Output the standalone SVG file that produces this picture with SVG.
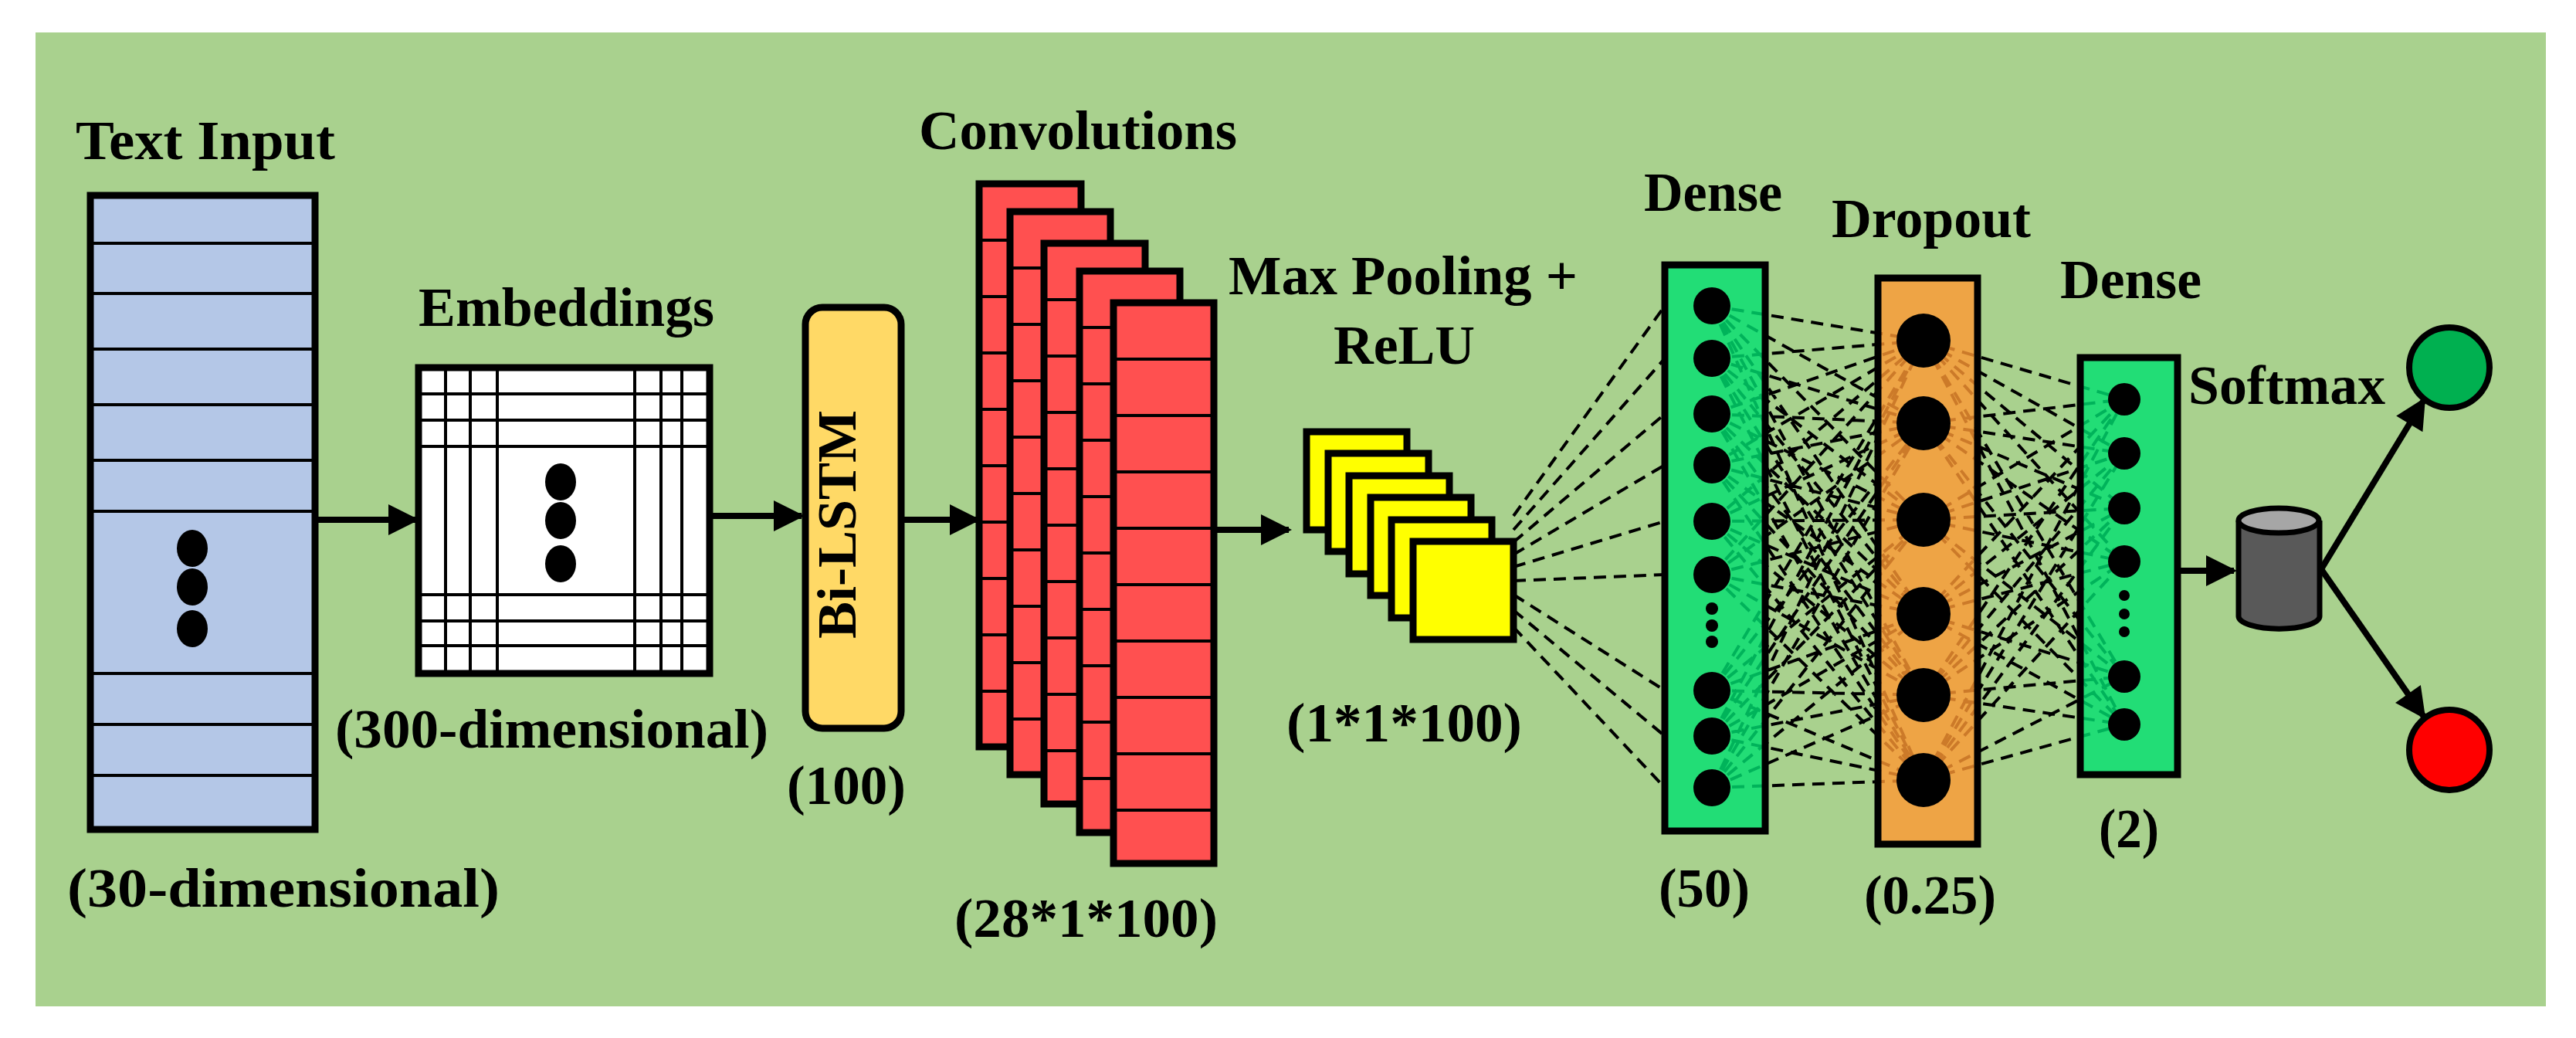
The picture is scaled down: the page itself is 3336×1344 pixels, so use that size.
<svg xmlns="http://www.w3.org/2000/svg" width="3336" height="1344" viewBox="0 0 3336 1344">
<defs>
<marker id="ah" viewBox="0 0 10 10" refX="9" refY="5" markerWidth="5.5" markerHeight="5" orient="auto" markerUnits="strokeWidth"><path d="M0,0 L10,5 L0,10 z" fill="#000"/></marker>
<style>
text{font-family:"Liberation Serif","Times New Roman",serif;font-weight:bold;font-size:72px;fill:#000}
.bx{stroke:#000;stroke-width:9}
.ln{stroke:#000;stroke-width:4}
.ar{stroke:#000;stroke-width:8;fill:none;marker-end:url(#ah)}
.d{stroke:#000;stroke-width:4;stroke-dasharray:16 10;fill:none}
</style>
</defs>
<rect width="3336" height="1344" fill="#fff"/>
<rect x="46" y="42" width="3251" height="1261" fill="#a9d18e"/>

<g id="text-input">
<text x="98" y="206" textLength="336" lengthAdjust="spacingAndGlyphs">Text Input</text>
<rect class="bx" x="117" y="253" width="291" height="821" fill="#b4c7e7"/>
<g class="ln"><line x1="117" x2="408" y1="315" y2="315"/><line x1="117" x2="408" y1="380" y2="380"/><line x1="117" x2="408" y1="452" y2="452"/><line x1="117" x2="408" y1="524" y2="524"/><line x1="117" x2="408" y1="596" y2="596"/><line x1="117" x2="408" y1="662" y2="662"/><line x1="117" x2="408" y1="872" y2="872"/><line x1="117" x2="408" y1="938" y2="938"/><line x1="117" x2="408" y1="1004" y2="1004"/></g>
<ellipse cx="249" cy="710" rx="20" ry="24"/><ellipse cx="249" cy="760" rx="20" ry="24"/><ellipse cx="249" cy="814" rx="20" ry="24"/>
<text x="87" y="1174" textLength="560" lengthAdjust="spacingAndGlyphs">(30-dimensional)</text>
</g>

<g id="embeddings">
<text x="542" y="422" textLength="383" lengthAdjust="spacingAndGlyphs">Embeddings</text>
<rect class="bx" x="542" y="476" width="377" height="396" fill="#fff"/>
<g class="ln"><line x1="577" x2="577" y1="476" y2="872"/><line x1="609" x2="609" y1="476" y2="872"/><line x1="644" x2="644" y1="476" y2="872"/><line x1="822" x2="822" y1="476" y2="872"/><line x1="856" x2="856" y1="476" y2="872"/><line x1="883" x2="883" y1="476" y2="872"/>
<line x1="542" x2="919" y1="510" y2="510"/><line x1="542" x2="919" y1="544" y2="544"/><line x1="542" x2="919" y1="578" y2="578"/><line x1="542" x2="919" y1="770" y2="770"/><line x1="542" x2="919" y1="804" y2="804"/><line x1="542" x2="919" y1="836" y2="836"/></g>
<rect x="650" y="582" width="168" height="184" fill="#fff"/>
<ellipse cx="726" cy="624" rx="20" ry="24"/><ellipse cx="726" cy="674" rx="20" ry="24"/><ellipse cx="726" cy="730" rx="20" ry="24"/>
<text x="434" y="968" textLength="561" lengthAdjust="spacingAndGlyphs">(300-dimensional)</text>
</g>

<g id="bilstm">
<rect class="bx" x="1043" y="398" width="124" height="545" rx="22" fill="#ffd966"/>
<text transform="translate(1108,679) rotate(-90)" text-anchor="middle" textLength="296" lengthAdjust="spacingAndGlyphs">Bi-LSTM</text>
<text x="1019" y="1041" textLength="154" lengthAdjust="spacingAndGlyphs">(100)</text>
</g>

<g id="convolutions">
<text x="1190" y="193" textLength="412" lengthAdjust="spacingAndGlyphs">Convolutions</text>
<rect class="bx" x="1268" y="238" width="132" height="729" fill="#ff5050"/>
<rect class="bx" x="1308" y="274" width="130" height="729" fill="#ff5050"/>
<rect class="bx" x="1352" y="315" width="131" height="726" fill="#ff5050"/>
<rect class="bx" x="1398" y="351" width="130" height="727" fill="#ff5050"/>
<rect class="bx" x="1442" y="392" width="130" height="726" fill="#ff5050"/>
<g class="ln">
<path d="M1268 311h40M1268 384h40M1268 457h40M1268 530h40M1268 603h40M1268 676h40M1268 749h40M1268 822h40M1268 895h40"/>
<path d="M1308 347h44M1308 420h44M1308 493h44M1308 566h44M1308 639h44M1308 712h44M1308 785h44M1308 858h44M1308 931h44"/>
<path d="M1352 388h46M1352 461h46M1352 534h46M1352 607h46M1352 680h46M1352 753h46M1352 826h46M1352 899h46M1352 972h46"/>
<path d="M1398 424h44M1398 497h44M1398 570h44M1398 643h44M1398 716h44M1398 789h44M1398 862h44M1398 935h44M1398 1008h44"/>
<path d="M1442 465h130M1442 538h130M1442 611h130M1442 684h130M1442 757h130M1442 830h130M1442 903h130M1442 976h130M1442 1049h130"/>
</g>
<text x="1236" y="1213" textLength="341" lengthAdjust="spacingAndGlyphs">(28*1*100)</text>
</g>

<g id="pooling">
<text x="1591" y="381" textLength="452" lengthAdjust="spacingAndGlyphs">Max Pooling +</text>
<text x="1727" y="471" textLength="183" lengthAdjust="spacingAndGlyphs">ReLU</text>
<rect class="bx" x="1692" y="559" width="130" height="127" fill="#ffff00"/>
<rect class="bx" x="1720" y="587" width="130" height="127" fill="#ffff00"/>
<rect class="bx" x="1747" y="616" width="130" height="127" fill="#ffff00"/>
<rect class="bx" x="1775" y="644" width="130" height="127" fill="#ffff00"/>
<rect class="bx" x="1802" y="673" width="130" height="127" fill="#ffff00"/>
<rect class="bx" x="1830" y="701" width="130" height="127" fill="#ffff00"/>
<text x="1666" y="960" textLength="305" lengthAdjust="spacingAndGlyphs">(1*1*100)</text>
</g>

<g id="connectors">
<line class="ar" x1="408" y1="673" x2="539" y2="673"/>
<line class="ar" x1="919" y1="668" x2="1038" y2="668"/>
<line class="ar" x1="1167" y1="673" x2="1266" y2="673"/>
<line class="ar" x1="1572" y1="686" x2="1669" y2="686"/>
<line class="ar" x1="2820" y1="739" x2="2893" y2="739"/>
<line class="ar" x1="3006" y1="737" x2="3139" y2="518"/>
<line class="ar" x1="3006" y1="737" x2="3139" y2="928"/>
<g class="d">
<path d="M1960 668L2156 396M1960 686L2156 464M1960 702L2156 536M1960 718L2156 602M1960 734L2156 675M1960 752L2156 744M1960 770L2156 894M1960 790L2156 953M1960 812L2156 1020"/>
<path d="M2217 396L2491 441M2217 396L2491 548M2217 396L2491 673M2217 396L2491 795M2217 396L2491 900M2217 396L2491 1010
M2217 464L2491 441M2217 464L2491 548M2217 464L2491 673M2217 464L2491 795M2217 464L2491 900M2217 464L2491 1010
M2217 536L2491 441M2217 536L2491 548M2217 536L2491 673M2217 536L2491 795M2217 536L2491 900M2217 536L2491 1010
M2217 602L2491 441M2217 602L2491 548M2217 602L2491 673M2217 602L2491 795M2217 602L2491 900M2217 602L2491 1010
M2217 675L2491 441M2217 675L2491 548M2217 675L2491 673M2217 675L2491 795M2217 675L2491 900M2217 675L2491 1010
M2217 744L2491 441M2217 744L2491 548M2217 744L2491 673M2217 744L2491 795M2217 744L2491 900M2217 744L2491 1010
M2217 894L2491 441M2217 894L2491 548M2217 894L2491 673M2217 894L2491 795M2217 894L2491 900M2217 894L2491 1010
M2217 953L2491 441M2217 953L2491 548M2217 953L2491 673M2217 953L2491 795M2217 953L2491 900M2217 953L2491 1010
M2217 1020L2491 441M2217 1020L2491 548M2217 1020L2491 673M2217 1020L2491 795M2217 1020L2491 900M2217 1020L2491 1010"/>
<path d="M2491 441L2751 517M2491 441L2751 587M2491 441L2751 658M2491 441L2751 727M2491 441L2751 876M2491 441L2751 938
M2491 548L2751 517M2491 548L2751 587M2491 548L2751 658M2491 548L2751 727M2491 548L2751 876M2491 548L2751 938
M2491 673L2751 517M2491 673L2751 587M2491 673L2751 658M2491 673L2751 727M2491 673L2751 876M2491 673L2751 938
M2491 795L2751 517M2491 795L2751 587M2491 795L2751 658M2491 795L2751 727M2491 795L2751 876M2491 795L2751 938
M2491 900L2751 517M2491 900L2751 587M2491 900L2751 658M2491 900L2751 727M2491 900L2751 876M2491 900L2751 938
M2491 1010L2751 517M2491 1010L2751 587M2491 1010L2751 658M2491 1010L2751 727M2491 1010L2751 876M2491 1010L2751 938"/>
</g>
</g>

<g id="dense1">
<text x="2129" y="273" textLength="179" lengthAdjust="spacingAndGlyphs">Dense</text>
<rect class="bx" x="2156" y="343" width="130" height="733" fill="#00e070" fill-opacity="0.8"/>
<circle cx="2217" cy="396" r="24"/><circle cx="2217" cy="464" r="24"/><circle cx="2217" cy="536" r="24"/><circle cx="2217" cy="602" r="24"/><circle cx="2217" cy="675" r="24"/><circle cx="2217" cy="744" r="24"/>
<circle cx="2217" cy="788" r="8"/><circle cx="2217" cy="810" r="8"/><circle cx="2217" cy="831" r="8"/>
<circle cx="2217" cy="894" r="24"/><circle cx="2217" cy="953" r="24"/><circle cx="2217" cy="1020" r="24"/>
<text x="2148" y="1174" textLength="118" lengthAdjust="spacingAndGlyphs">(50)</text>
</g>

<g id="dropout">
<text x="2372" y="307" textLength="258" lengthAdjust="spacingAndGlyphs">Dropout</text>
<rect class="bx" x="2432" y="360" width="129" height="733" fill="#ff9933" fill-opacity="0.8"/>
<circle cx="2491" cy="441" r="35"/><circle cx="2491" cy="548" r="35"/><circle cx="2491" cy="673" r="35"/><circle cx="2491" cy="795" r="35"/><circle cx="2491" cy="900" r="35"/><circle cx="2491" cy="1010" r="35"/>
<text x="2414" y="1183" textLength="171" lengthAdjust="spacingAndGlyphs">(0.25)</text>
</g>

<g id="dense2">
<text x="2668" y="386" textLength="183" lengthAdjust="spacingAndGlyphs">Dense</text>
<rect class="bx" x="2694" y="463" width="126" height="540" fill="#00e070" fill-opacity="0.8"/>
<circle cx="2751" cy="517" r="21"/><circle cx="2751" cy="587" r="21"/><circle cx="2751" cy="658" r="21"/><circle cx="2751" cy="727" r="21"/>
<circle cx="2751" cy="771" r="7"/><circle cx="2751" cy="795" r="7"/><circle cx="2751" cy="818" r="7"/>
<circle cx="2751" cy="876" r="21"/><circle cx="2751" cy="938" r="21"/>
<text x="2718" y="1097" textLength="78" lengthAdjust="spacingAndGlyphs">(2)</text>
</g>

<g id="softmax">
<text x="2834" y="523" textLength="255" lengthAdjust="spacingAndGlyphs">Softmax</text>
<path d="M2899 674V798A52 16 0 0 0 3004 798V674" fill="#595959" stroke="#000" stroke-width="7"/>
<ellipse cx="2951" cy="674" rx="52" ry="16" fill="#a6a6a6" stroke="#000" stroke-width="7"/>
</g>

<g id="out-green"><circle cx="3172" cy="476" r="52" fill="#00b050" stroke="#000" stroke-width="8"/></g>
<g id="out-red"><circle cx="3172" cy="971" r="52" fill="#ff0000" stroke="#000" stroke-width="8"/></g>
</svg>
